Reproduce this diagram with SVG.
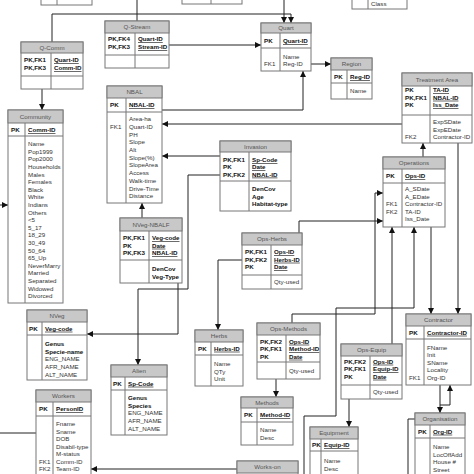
<svg xmlns="http://www.w3.org/2000/svg" width="474" height="474" viewBox="0 0 474 474">
<defs>
<marker id="ah" viewBox="0 0 8 8" refX="8" refY="4" markerWidth="6" markerHeight="6" markerUnits="userSpaceOnUse" orient="auto"><path d="M0,0 L8,4 L0,8 z" fill="#111"/></marker>
</defs>
<style>
.bx{fill:#fff;stroke:#777;stroke-width:1}
.hd{fill:#c8c8c8;stroke:#777;stroke-width:1}
.sl{stroke:#777;stroke-width:1;fill:none}
.cn{stroke:#222;stroke-width:1;fill:none}
.ar{marker-end:url(#ah)}
text{font-family:"Liberation Sans",Arial,sans-serif;font-size:6.2px;fill:#333}
.h{text-anchor:middle;fill:#555}
.k{font-weight:bold;fill:#111}
.u{font-weight:bold;fill:#111;text-decoration:underline}
.b{font-weight:bold;fill:#111}
</style>
<rect width="474" height="474" fill="#fff"/>

<g id="connectors">
<path class="cn ar" d="M52,42 V14 H291 V23"/>
<path class="cn ar" d="M284,0 V23"/>
<path class="cn" d="M137,0 V21"/>
<path class="cn ar" d="M169,45 H261"/>
<path class="cn ar" d="M311,64 H331"/>
<path class="cn ar" d="M162,110 H303 V71"/>
<path class="cn ar" d="M402,124 H162"/>
<path class="cn ar" d="M220,156 H162"/>
<path class="cn ar" d="M42,89 V110"/>
<path class="cn ar" d="M0,205 H8"/>
<path class="cn ar" d="M142,218 V203"/>
<path class="cn ar" d="M220,175 H188 V289 H138 V365"/>
<path class="cn ar" d="M178,283 V334 H87"/>
<path class="cn ar" d="M242,260 H218 V330"/>
<path class="cn ar" d="M299,233 V221 H383"/>
<path class="cn ar" d="M292,323 V314 H375 V193 H383"/>
<path class="cn ar" d="M276,379 V397"/>
<path class="cn ar" d="M423,157 V143"/>
<path class="cn ar" d="M392,344 V227"/>
<path class="cn ar" d="M304,474 V416 H336 V308 H414 V227"/>
<path class="cn ar" d="M431,227 V314"/>
<path class="cn ar" d="M458,143 V314"/>
<path class="cn ar" d="M349,399 V427"/>
<path class="cn ar" d="M440,385 V413"/>
<path class="cn ar" d="M440,405 H450 V385"/>
<path class="cn" d="M415,419 H408 V474"/>
<path class="cn ar" d="M237,469 H91"/>
<path class="cn" d="M0,433 H36"/>
</g>

<g id="topA"><rect class="bx" x="41" y="-10" width="51" height="15"/><path class="sl" d="M57,-10 V5"/></g>
<g id="topB"><rect class="bx" x="182" y="-10" width="60" height="14"/><path class="sl" d="M211,-10 V4"/></g>
<g id="classbox"><rect class="bx" x="352" y="-10" width="55" height="19"/><path class="sl" d="M368,-10 V9"/><text x="371" y="5.5">Class</text></g>

<g id="q-comm">
<rect class="bx" x="21" y="42" width="62" height="47"/><rect class="hd" x="21" y="42" width="62" height="11"/>
<path class="sl" d="M21,76 H83 M51,53 V89"/>
<text class="h" x="52" y="49.7">Q-Comm</text>
<text class="k" x="24" y="62.2">PK,FK1</text><text class="k" x="24" y="70.2">PK,FK3</text>
<text class="u" x="54" y="62.2">Quart-ID</text><text class="u" x="54" y="70.2">Comm-ID</text>
</g>

<g id="q-stream">
<rect class="bx" x="105" y="21" width="64" height="47"/><rect class="hd" x="105" y="21" width="64" height="12"/>
<path class="sl" d="M105,55 H169 M135,33 V68"/>
<text class="h" x="137" y="29.2">Q-Stream</text>
<text class="k" x="108" y="41.2">PK,FK4</text><text class="k" x="108" y="49.2">PK,FK3</text>
<text class="u" x="138" y="41.2">Quart-ID</text><text class="u" x="138" y="49.2">Stream-ID</text>
</g>

<g id="quart">
<rect class="bx" x="261" y="23" width="50" height="48"/><rect class="hd" x="261" y="23" width="50" height="10"/>
<path class="sl" d="M261,48 H311 M280,33 V71"/>
<text class="h" x="286" y="30.2">Quart</text>
<text class="k" x="264" y="43.2">PK</text><text class="u" x="283" y="43.2">Quart-ID</text>
<text x="283" y="59.2">Name</text><text x="283" y="66.2">Reg-ID</text><text x="264" y="66.2">FK1</text>
</g>

<g id="region">
<rect class="bx" x="331" y="58" width="41" height="41"/><rect class="hd" x="331" y="58" width="41" height="12"/>
<path class="sl" d="M331,83 H372 M347,70 V99"/>
<text class="h" x="351.5" y="66.2">Region</text>
<text class="k" x="334" y="79.2">PK</text><text class="u" x="350" y="79.2">Reg-ID</text>
<text x="350" y="93.2">Name</text>
</g>

<g id="treatment-area">
<rect class="bx" x="402" y="73" width="70" height="70"/><rect class="hd" x="402" y="73" width="70" height="13"/>
<path class="sl" d="M402,115 H472 M430,86 V143"/>
<text class="h" x="437" y="81.7">Treatment Area</text>
<text class="k" x="405" y="92.2">PK</text><text class="k" x="405" y="99.7">PK,FK1</text><text class="k" x="405" y="107.2">PK</text>
<text class="u" x="433" y="92.2">TA-ID</text><text class="u" x="433" y="99.7">NBAL-ID</text><text class="u" x="433" y="107.2">Iss_Date</text>
<text x="433" y="124.2">ExpSDate</text><text x="433" y="131.8">ExpEDate</text><text x="433" y="139.4">Contractor-ID</text>
<text x="405" y="139.4">FK2</text>
</g>

<g id="nbal">
<rect class="bx" x="107" y="86" width="55" height="117"/><rect class="hd" x="107" y="86" width="55" height="12"/>
<path class="sl" d="M107,112 H162 M126,98 V203"/>
<text class="h" x="134.5" y="94.2">NBAL</text>
<text class="k" x="110" y="107.2">PK</text><text class="u" x="129" y="107.2">NBAL-ID</text>
<text x="129" y="121.2">Area-ha</text>
<text x="129" y="128.9">Quart-ID</text><text x="110" y="128.9">FK1</text>
<text x="129" y="136.6">PH</text>
<text x="129" y="144.3">Slope</text>
<text x="129" y="152">Alt</text>
<text x="129" y="159.7">Slope(%)</text>
<text x="129" y="167.4">SlopeArea</text>
<text x="129" y="175.1">Access</text>
<text x="129" y="182.8">Walk-time</text>
<text x="129" y="190.5">Drive-Time</text>
<text x="129" y="198.2">Distance</text>
</g>

<g id="community">
<rect class="bx" x="8" y="110" width="55" height="193"/><rect class="hd" x="8" y="110" width="55" height="13"/>
<path class="sl" d="M8,136 H63 M25,123 V303"/>
<text class="h" x="35.5" y="119.2">Community</text>
<text class="k" x="11" y="132.2">PK</text><text class="u" x="28" y="132.2">Comm-ID</text>
<text x="28" y="146.2">Name</text>
<text x="28" y="153.8">Pop1999</text>
<text x="28" y="161.4">Pop2000</text>
<text x="28" y="169">Households</text>
<text x="28" y="176.6">Males</text>
<text x="28" y="184.2">Females</text>
<text x="28" y="191.8">Black</text>
<text x="28" y="199.4">White</text>
<text x="28" y="207">Indians</text>
<text x="28" y="214.6">Others</text>
<text x="28" y="222.2">&lt;5</text>
<text x="28" y="229.8">5_17</text>
<text x="28" y="237.4">18_29</text>
<text x="28" y="245">30_49</text>
<text x="28" y="252.6">50_64</text>
<text x="28" y="260.2">65_Up</text>
<text x="28" y="267.8">NeverMarry</text>
<text x="28" y="275.4">Married</text>
<text x="28" y="283">Separated</text>
<text x="28" y="290.6">Widowed</text>
<text x="28" y="298.2">Divorced</text>
</g>

<g id="invasion">
<rect class="bx" x="220" y="141" width="71" height="70"/><rect class="hd" x="220" y="141" width="71" height="11"/>
<path class="sl" d="M220,181 H291 M249,152 V211"/>
<text class="h" x="255.5" y="148.7">Invasion</text>
<text class="k" x="223" y="162.2">PK,FK1</text><text class="k" x="223" y="169.4">PK</text><text class="k" x="223" y="176.6">PK,FK2</text>
<text class="u" x="252" y="162.2">Sp-Code</text><text class="u" x="252" y="169.4">Date</text><text class="u" x="252" y="176.6">NBAL-ID</text>
<text class="b" x="252" y="191.2">DenCov</text><text class="b" x="252" y="198.8">Age</text><text class="b" x="252" y="206.4">Habitat-type</text>
</g>

<g id="operations">
<rect class="bx" x="383" y="157" width="62" height="70"/><rect class="hd" x="383" y="157" width="62" height="12"/>
<path class="sl" d="M383,183 H445 M402,169 V227"/>
<text class="h" x="414" y="165.2">Operations</text>
<text class="k" x="386" y="178.2">PK</text><text class="u" x="405" y="178.2">Ops-ID</text>
<text x="405" y="191.2">A_SDate</text><text x="405" y="198.7">A_EDate</text>
<text x="405" y="206.2">Contractor-ID</text><text x="386" y="206.2">FK1</text>
<text x="405" y="213.7">TA-ID</text><text x="386" y="213.7">FK2</text>
<text x="405" y="221.2">Iss_Date</text>
</g>

<g id="nveg-nbalf">
<rect class="bx" x="120" y="218" width="62" height="65"/><rect class="hd" x="120" y="218" width="62" height="13"/>
<path class="sl" d="M120,260 H182 M149,231 V283"/>
<text class="h" x="151" y="226.7">NVeg-NBALF</text>
<text class="k" x="123" y="240.2">PK,FK1</text><text class="k" x="123" y="247.7">PK</text><text class="k" x="123" y="255.2">PK,FK3</text>
<text class="u" x="152" y="240.2">Veg-code</text><text class="u" x="152" y="247.7">Date</text><text class="u" x="152" y="255.2">NBAL-ID</text>
<text class="b" x="152" y="271.2">DenCov</text><text class="b" x="152" y="278.8">Veg-Type</text>
</g>

<g id="ops-herbs">
<rect class="bx" x="242" y="233" width="60" height="56"/><rect class="hd" x="242" y="233" width="60" height="12"/>
<path class="sl" d="M242,275 H302 M271,245 V289"/>
<text class="h" x="272" y="241.2">Ops-Herbs</text>
<text class="k" x="245" y="254.2">PK,FK1</text><text class="k" x="245" y="261.7">PK,FK2</text><text class="k" x="245" y="269.2">PK</text>
<text class="u" x="274" y="254.2">Ops-ID</text><text class="u" x="274" y="261.7">Herbs-ID</text><text class="u" x="274" y="269.2">Date</text>
<text x="274" y="284.2">Qty-used</text>
</g>

<g id="nveg">
<rect class="bx" x="27" y="310" width="60" height="70"/><rect class="hd" x="27" y="310" width="60" height="12"/>
<path class="sl" d="M27,335 H87 M42,322 V380"/>
<text class="h" x="57" y="318.2">NVeg</text>
<text class="k" x="29" y="330.7">PK</text><text class="u" x="45" y="330.7">Veg-code</text>
<text class="b" x="45" y="346.2">Genus</text><text class="b" x="45" y="353.8">Specie-name</text>
<text x="45" y="361.4">ENG_NAME</text><text x="45" y="369">AFR_NAME</text><text x="45" y="376.6">ALT_NAME</text>
</g>

<g id="contractor">
<rect class="bx" x="406" y="314" width="65" height="71"/><rect class="hd" x="406" y="314" width="65" height="12"/>
<path class="sl" d="M406,339 H471 M424,326 V385"/>
<text class="h" x="438.5" y="322.2">Contractor</text>
<text class="k" x="409" y="334.7">PK</text><text class="u" x="427" y="334.7">Contractor-ID</text>
<text x="427" y="349.7">FName</text><text x="427" y="357.2">Init</text><text x="427" y="364.7">SName</text>
<text x="427" y="372.2">Locality</text><text x="427" y="379.7">Org-ID</text><text x="409" y="379.7">FK1</text>
</g>

<g id="ops-methods">
<rect class="bx" x="257" y="323" width="63" height="56"/><rect class="hd" x="257" y="323" width="63" height="12"/>
<path class="sl" d="M257,362 H320 M286,335 V379"/>
<text class="h" x="288.5" y="331.2">Ops-Methods</text>
<text class="k" x="260" y="343.7">PK,FK2</text><text class="k" x="260" y="351.2">PK,FK1</text><text class="k" x="260" y="358.7">PK</text>
<text class="u" x="289" y="343.7">Ops-ID</text><text class="u" x="289" y="351.2">Method-ID</text><text class="u" x="289" y="358.7">Date</text>
<text x="289" y="373.2">Qty-used</text>
</g>

<g id="herbs">
<rect class="bx" x="195" y="330" width="48" height="56"/><rect class="hd" x="195" y="330" width="48" height="12"/>
<path class="sl" d="M195,355 H243 M211,342 V386"/>
<text class="h" x="219" y="338.2">Herbs</text>
<text class="k" x="198" y="350.7">PK</text><text class="u" x="214" y="350.7">Herbs-ID</text>
<text x="214" y="366.2">Name</text><text x="214" y="373.7">QTy</text><text x="214" y="381.2">Unit</text>
</g>

<g id="ops-equip">
<rect class="bx" x="341" y="344" width="61" height="55"/><rect class="hd" x="341" y="344" width="61" height="12"/>
<path class="sl" d="M341,385 H402 M370,356 V399"/>
<text class="h" x="371.5" y="352.2">Ops-Equip</text>
<text class="k" x="344" y="363.7">PK,FK2</text><text class="k" x="344" y="371.2">PK,FK1</text><text class="k" x="344" y="378.7">PK</text>
<text class="u" x="373" y="363.7">Ops-ID</text><text class="u" x="373" y="371.2">Equip-ID</text><text class="u" x="373" y="378.7">Date</text>
<text x="373" y="394.2">Qty-used</text>
</g>

<g id="alien">
<rect class="bx" x="111" y="365" width="56" height="70"/><rect class="hd" x="111" y="365" width="56" height="12"/>
<path class="sl" d="M111,390 H167 M125,377 V435"/>
<text class="h" x="139" y="373.2">Alien</text>
<text class="k" x="113" y="385.7">PK</text><text class="u" x="128" y="385.7">Sp-Code</text>
<text class="b" x="128" y="400.2">Genus</text><text class="b" x="128" y="407.8">Species</text>
<text x="128" y="415.4">ENG_NAME</text><text x="128" y="423">AFR_NAME</text><text x="128" y="430.6">ALT_NAME</text>
</g>

<g id="workers">
<rect class="bx" x="36" y="390" width="55" height="90"/><rect class="hd" x="36" y="390" width="55" height="12"/>
<path class="sl" d="M36,416 H91 M53,402 V480"/>
<text class="h" x="63.5" y="398.2">Workers</text>
<text class="k" x="39" y="411.2">PK</text><text class="u" x="56" y="411.2">PersonID</text>
<text x="56" y="426.2">Fname</text><text x="56" y="433.7">Sname</text><text x="56" y="441.2">DOB</text>
<text x="56" y="448.7">Disabil-type</text><text x="56" y="456.2">M-status</text>
<text x="56" y="463.7">Comm-ID</text><text x="39" y="463.7">FK1</text>
<text x="56" y="471.2">Team-ID</text><text x="39" y="471.2">FK2</text>
</g>

<g id="methods">
<rect class="bx" x="241" y="397" width="52" height="48"/><rect class="hd" x="241" y="397" width="52" height="11"/>
<path class="sl" d="M241,422 H293 M257,408 V445"/>
<text class="h" x="267" y="404.7">Methods</text>
<text class="k" x="244" y="417.2">PK</text><text class="u" x="260" y="417.2">Method-ID</text>
<text x="260" y="432.2">Name</text><text x="260" y="439.7">Desc</text>
</g>

<g id="organisation">
<rect class="bx" x="415" y="413" width="50" height="70"/><rect class="hd" x="415" y="413" width="50" height="12"/>
<path class="sl" d="M415,438 H465 M430,425 V483"/>
<text class="h" x="440" y="421.2">Organisation</text>
<text class="k" x="418" y="433.7">PK</text><text class="u" x="433" y="433.7">Org-ID</text>
<text x="433" y="449.2">Name</text><text x="433" y="456.7">LocOffAdd</text><text x="433" y="464.2">House #</text><text x="433" y="471.7">Street</text>
</g>

<g id="equipment">
<rect class="bx" x="310" y="427" width="48" height="53"/><rect class="hd" x="310" y="427" width="48" height="12"/>
<path class="sl" d="M310,451 H358 M321,439 V480"/>
<text class="h" x="334" y="435.2">Equipment</text>
<text class="k" x="312" y="447.2">PK</text><text class="u" x="324" y="447.2">Equip-ID</text>
<text x="324" y="463.2">Name</text><text x="324" y="470.7">Desc</text>
</g>

<g id="works-on">
<rect class="bx" x="237" y="461" width="61" height="20"/><rect class="hd" x="237" y="461" width="61" height="12"/>
<text class="h" x="267.5" y="469.2">Works-on</text>
</g>
</svg>
